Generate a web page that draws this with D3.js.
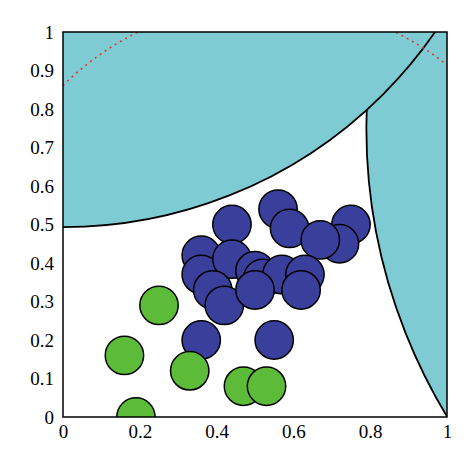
<!DOCTYPE html>
<html><head><meta charset="utf-8">
<script src="https://cdn.jsdelivr.net/npm/d3@7"></script>
<style>body{margin:0;background:#fff}</style>
</head><body><svg id="c" width="474" height="470"></svg>
<script>
const ticks = [0, 0.1, 0.2, 0.3, 0.4, 0.5, 0.6, 0.7, 0.8, 0.9, 1];
const xTicks = [0, 0.2, 0.4, 0.6, 0.8, 1];
const blueX = [0.44, 0.56, 0.59, 0.75, 0.72, 0.67, 0.36, 0.36, 0.44, 0.50, 0.52, 0.57, 0.63, 0.62, 0.39, 0.42, 0.50, 0.36, 0.55];
const blueY = [0.50, 0.54, 0.49, 0.50, 0.45, 0.46, 0.42, 0.37, 0.41, 0.38, 0.36, 0.37, 0.37, 0.33, 0.33, 0.29, 0.33, 0.20, 0.20];
const greenX = [0.25, 0.16, 0.33, 0.47, 0.53, 0.19];
const greenY = [0.29, 0.16, 0.12, 0.08, 0.08, 0.00];
// regions: [cx, cy, r]
const leftCircle = [0.0, 1.667, 1.177];
const rightCircle = [2.234, 0.75, 1.444];
const redCircle = [0.53, 0.325, 0.755];

const svg = d3.select("#c");
const L = 63, R = 447, T = 32, B = 417;
const x = d3.scaleLinear([0, 1], [L, R]);
const y = d3.scaleLinear([0, 1], [B, T]);

svg.append("clipPath").attr("id", "clip").append("rect")
  .attr("x", L).attr("y", T).attr("width", R - L).attr("height", B - T);
const g = svg.append("g").attr("clip-path", "url(#clip)");

function circ(c) {
  return g.append("circle").attr("cx", x(c[0])).attr("cy", y(c[1]))
    .attr("r", x(c[2]) - x(0));
}
circ(rightCircle).attr("fill", "#7ecbd3").attr("stroke", "#000").attr("stroke-width", 1.8);
circ(leftCircle).attr("fill", "#7ecbd3").attr("stroke", "#000").attr("stroke-width", 1.8);
circ(redCircle).attr("fill", "none").attr("stroke", "#e53030").attr("stroke-width", 1.5)
  .attr("stroke-dasharray", "2,4");

const pr = x(0.05) - x(0);
g.selectAll(".b").data(d3.zip(blueX, blueY)).join("circle")
  .attr("cx", d => x(d[0])).attr("cy", d => y(d[1])).attr("r", pr)
  .attr("fill", "#3b3f9c").attr("stroke", "#000").attr("stroke-width", 1.5);
g.selectAll(".gr").data(d3.zip(greenX, greenY)).join("circle")
  .attr("cx", d => x(d[0])).attr("cy", d => y(d[1])).attr("r", pr)
  .attr("fill", "#5dbb3a").attr("stroke", "#000").attr("stroke-width", 1.5);

svg.append("rect").attr("x", L).attr("y", T).attr("width", R - L).attr("height", B - T)
  .attr("fill", "none").attr("stroke", "#000").attr("stroke-width", 1.5);

const font = "Liberation Serif";
svg.append("g").attr("transform", `translate(0,${B})`)
  .call(d3.axisBottom(x).tickValues(xTicks).tickSize(0).tickPadding(8).tickFormat(d3.format("")))
  .call(a => a.select(".domain").remove())
  .selectAll("text").attr("font-family", font).attr("font-size", 19).attr("fill", "#000");
svg.append("g").attr("transform", `translate(${L},0)`)
  .call(d3.axisLeft(y).tickValues(ticks).tickSize(0).tickPadding(9).tickFormat(d3.format("")))
  .call(a => a.select(".domain").remove())
  .selectAll("text").attr("font-family", font).attr("font-size", 19).attr("fill", "#000");
</script></body></html>
